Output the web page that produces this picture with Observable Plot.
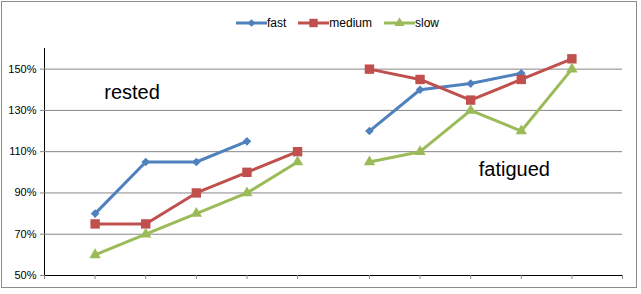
<!DOCTYPE html>
<html>
<head>
<meta charset="utf-8">
<script src="https://cdn.jsdelivr.net/npm/d3@7"></script>
<script src="https://cdn.jsdelivr.net/npm/@observablehq/plot@0.6"></script>
<style>
  html, body { margin: 0; padding: 0; background: #fff; }
  #wrap { position: relative; width: 641px; height: 294px; overflow: hidden; font-family: "Liberation Sans", Arial, sans-serif; }
  #frame { position: absolute; left: 1px; top: 1px; width: 636px; height: 287px; box-sizing: border-box; border: 1px solid #8c8c8c; }
  #chart { position: absolute; left: 0; top: 0; }
  #chart svg g[aria-label*="axis"] line, #chart svg g[aria-label*="axis"] path { stroke: #868686; }
  #legend { position: absolute; left: 236px; top: 16px; display: flex; align-items: center; font-size: 12px; color: #000; }
  #legend .item { display: flex; align-items: center; margin-right: 12px; }
  #legend svg { display: block; }
</style>
</head>
<body>
<div id="wrap">
  <div id="frame"></div>
  <div id="chart"></div>
  <div id="legend"></div>
</div>
<script>
// ---- data ----
const seriesNames = ["fast", "medium", "slow"];
const seriesColors = ["#4F81BD", "#C0504D", "#9BBB59"];
const seriesSymbols = ["diamond2", "square", "triangle"];
const seriesRadius = [3.9, 5.3, 4.2];

const restedX = [1, 2, 3, 4, 5];
const fatiguedX = [6.42, 7.42, 8.42, 9.42, 10.42];
const xTicks = [0, 1, 2, 3, 4, 5, 6.42, 7.42, 8.42, 9.42, 10.42, 11.42];

const restedFast = [80, 105, 105, 115];
const restedMedium = [75, 75, 90, 100, 110];
const restedSlow = [60, 70, 80, 90, 105];
const fatiguedFast = [120, 140, 143, 148];
const fatiguedMedium = [150, 145, 135, 145, 155];
const fatiguedSlow = [105, 110, 130, 120, 150];

const yTicks = [50, 70, 90, 110, 130, 150];
const yDomain = [50, 160];

const noteLabels = ["rested", "fatigued"];
const noteX = [1.18, 8.58];
const noteY = [138.7, 101.1];

// ---- build table ----
const groups = [
  {group: "rested", xs: restedX, series: [restedFast, restedMedium, restedSlow]},
  {group: "fatigued", xs: fatiguedX, series: [fatiguedFast, fatiguedMedium, fatiguedSlow]}
];
const data = [];
for (const g of groups) {
  g.series.forEach((vals, si) => {
    vals.forEach((v, i) => {
      data.push({group: g.group, series: seriesNames[si], key: g.group + "-" + seriesNames[si], x: g.xs[i], y: v});
    });
  });
}
const notes = noteLabels.map((t, i) => ({text: t, x: noteX[i], y: noteY[i]}));

const dotMarks = seriesNames.map((s, i) =>
  Plot.dot(data.filter(d => d.series === s), {
    x: "x", y: "y", fill: "series", symbol: () => seriesSymbols[i], r: seriesRadius[i], stroke: "none"
  })
);

const chart = Plot.plot({
  width: 641,
  height: 294,
  marginLeft: 44,
  marginRight: 19,
  marginTop: 48,
  marginBottom: 19,
  style: {background: "transparent", color: "#000", fontFamily: "'Liberation Sans', Arial, sans-serif", fontSize: "11px"},
  x: {domain: [0, xTicks[xTicks.length - 1]], ticks: xTicks, tickSize: 4, tickFormat: () => "", line: true, label: null},
  y: {domain: yDomain, ticks: yTicks, tickSize: 4, tickPadding: 4, tickFormat: d => d + "%", line: true, label: null},
  color: {domain: seriesNames, range: seriesColors},
  symbol: {domain: seriesSymbols, range: seriesSymbols},
  marks: [
    Plot.ruleY(yTicks.filter(v => v > yDomain[0]), {stroke: "#868686", strokeWidth: 1}),
    Plot.line(data, {x: "x", y: "y", z: "key", stroke: "series", strokeWidth: 3, curve: "linear"}),
    ...dotMarks,
    Plot.text(notes, {x: "x", y: "y", text: "text", textAnchor: "start", fontSize: 20, fill: "#000"})
  ]
});
document.getElementById("chart").appendChild(chart);

// ---- legend ----
const legend = d3.select("#legend");
seriesNames.forEach((s, i) => {
  const item = legend.append("div").attr("class", "item");
  const svg = item.append("svg").attr("width", 31).attr("height", 12);
  svg.append("line").attr("x1", 0).attr("x2", 31).attr("y1", 6).attr("y2", 6)
    .attr("stroke", seriesColors[i]).attr("stroke-width", 3);
  const symType = i === 0 ? d3.symbolDiamond2 : i === 1 ? d3.symbolSquare : d3.symbolTriangle;
  const size = Math.PI * seriesRadius[i] * seriesRadius[i] * 0.8;
  svg.append("path").attr("d", d3.symbol(symType, size)()).attr("transform", "translate(15.5,6)")
    .attr("fill", seriesColors[i]);
  item.append("span").text(s);
});
</script>
</body>
</html>
